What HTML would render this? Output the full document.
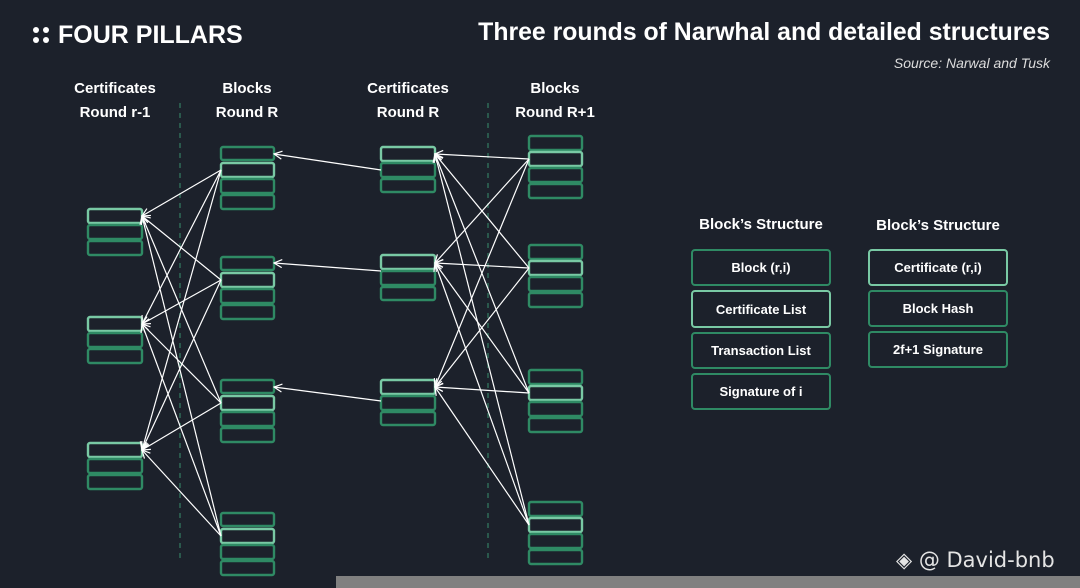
<!DOCTYPE html>
<html><head><meta charset="utf-8"><style>
body{margin:0;width:1080px;height:588px;background:#1c212b;overflow:hidden;position:relative;font-family:"Liberation Sans",sans-serif;color:#fff}
.t{position:absolute;font-weight:bold}
.box{position:absolute;border:2px solid #2f8a64;border-radius:4px;box-sizing:border-box;display:flex;align-items:center;justify-content:center;font-size:13px;font-weight:bold}
.hl{border-color:#79c9a4}
</style></head><body>
<div class="t" style="left:32px;top:21px;font-size:25px">
<span style="display:inline-block;width:18px;height:18px;position:relative;vertical-align:-1px;margin-right:8px">
<i style="position:absolute;left:1px;top:1px;width:6px;height:6px;border-radius:50%;background:#fff"></i>
<i style="position:absolute;left:11px;top:1px;width:6px;height:6px;border-radius:50%;background:#fff"></i>
<i style="position:absolute;left:1px;top:11px;width:6px;height:6px;border-radius:50%;background:#fff"></i>
<i style="position:absolute;left:11px;top:11px;width:6px;height:6px;border-radius:50%;background:#fff"></i></span>FOUR PILLARS</div>
<div class="t" style="right:30px;top:19px;font-size:24.8px">Three rounds of Narwhal and detailed structures</div>
<div style="position:absolute;right:30px;top:55px;font-size:14px;font-style:italic;color:#ddd">Source: Narwal and Tusk</div>
<div class="t" style="left:55px;width:120px;text-align:center;top:77px;font-size:15px;line-height:24px">Certificates<br>Round r-1</div>
<div class="t" style="left:187px;width:120px;text-align:center;top:77px;font-size:15px;line-height:24px">Blocks<br>Round R</div>
<div class="t" style="left:348px;width:120px;text-align:center;top:77px;font-size:15px;line-height:24px">Certificates<br>Round R</div>
<div class="t" style="left:495px;width:120px;text-align:center;top:77px;font-size:15px;line-height:24px">Blocks<br>Round R+1</div>

<svg width="1080" height="588" style="position:absolute;left:0;top:0">
<defs><marker id="a" markerWidth="10" markerHeight="10" refX="9" refY="5" orient="auto" markerUnits="userSpaceOnUse"><path d="M1,1 L9,5 L1,9" fill="none" stroke="#fff" stroke-width="1.2"/></marker></defs>
<g stroke="#2e6b58" stroke-width="1.5" stroke-dasharray="5,5"><line x1="180" y1="103" x2="180" y2="562"/><line x1="488" y1="103" x2="488" y2="562"/></g>
<g fill="none" stroke-width="2.4">
<g id="c3">
<rect x="88" y="209" width="54" height="14" rx="2" stroke="#79c9a4"/>
<rect x="88" y="225" width="54" height="14" rx="2" stroke="#2f8a64"/>
<rect x="88" y="241" width="54" height="14" rx="2" stroke="#2f8a64"/></g>
<use href="#c3" y="108"/><use href="#c3" y="234"/>
<g id="b4">
<rect x="221" y="147" width="53" height="13" rx="2" stroke="#2f8a64"/>
<rect x="221" y="163" width="53" height="14" rx="2" stroke="#79c9a4"/>
<rect x="221" y="179" width="53" height="14" rx="2" stroke="#2f8a64"/>
<rect x="221" y="195" width="53" height="14" rx="2" stroke="#2f8a64"/></g>
<use href="#b4" y="110"/><use href="#b4" y="233"/><use href="#b4" y="366"/>
<g id="c3b">
<rect x="381" y="147" width="54" height="14" rx="2" stroke="#79c9a4"/>
<rect x="381" y="163" width="54" height="14" rx="2" stroke="#2f8a64"/>
<rect x="381" y="179" width="54" height="13" rx="2" stroke="#2f8a64"/></g>
<use href="#c3b" y="108"/><use href="#c3b" y="233"/>
<g id="b4b">
<rect x="529" y="136" width="53" height="14" rx="2" stroke="#2f8a64"/>
<rect x="529" y="152" width="53" height="14" rx="2" stroke="#79c9a4"/>
<rect x="529" y="168" width="53" height="14" rx="2" stroke="#2f8a64"/>
<rect x="529" y="184" width="53" height="14" rx="2" stroke="#2f8a64"/></g>
<use href="#b4b" y="109"/><use href="#b4b" y="234"/><use href="#b4b" y="366"/>
</g>
<g stroke="#fff" stroke-width="1.2" marker-end="url(#a)">
<line x1="221" y1="170" x2="142" y2="216"/><line x1="221" y1="170" x2="142" y2="324"/><line x1="221" y1="170" x2="142" y2="450"/>
<line x1="221" y1="280" x2="142" y2="216"/><line x1="221" y1="280" x2="142" y2="324"/><line x1="221" y1="280" x2="142" y2="450"/>
<line x1="221" y1="403" x2="142" y2="216"/><line x1="221" y1="403" x2="142" y2="324"/><line x1="221" y1="403" x2="142" y2="450"/>
<line x1="221" y1="536" x2="142" y2="216"/><line x1="221" y1="536" x2="142" y2="324"/><line x1="221" y1="536" x2="142" y2="450"/>
<line x1="381" y1="170" x2="274" y2="154"/><line x1="381" y1="271" x2="274" y2="263"/><line x1="381" y1="401" x2="274" y2="387"/>
<line x1="529" y1="159" x2="435" y2="154"/><line x1="529" y1="159" x2="435" y2="263"/><line x1="529" y1="159" x2="435" y2="387"/>
<line x1="529" y1="268" x2="435" y2="154"/><line x1="529" y1="268" x2="435" y2="263"/><line x1="529" y1="268" x2="435" y2="387"/>
<line x1="529" y1="393" x2="435" y2="154"/><line x1="529" y1="393" x2="435" y2="263"/><line x1="529" y1="393" x2="435" y2="387"/>
<line x1="529" y1="525" x2="435" y2="154"/><line x1="529" y1="525" x2="435" y2="263"/><line x1="529" y1="525" x2="435" y2="387"/>
</g>
</svg>

<div class="t" style="left:680px;width:162px;text-align:center;top:216px;font-size:15px">Block’s Structure</div>
<div class="t" style="left:857px;width:162px;text-align:center;top:217px;font-size:15px">Block’s Structure</div>
<div class="box" style="left:691px;top:249px;width:140px;height:37px">Block (r,i)</div>
<div class="box hl" style="left:691px;top:290px;width:140px;height:38px">Certificate List</div>
<div class="box" style="left:691px;top:332px;width:140px;height:37px">Transaction List</div>
<div class="box" style="left:691px;top:373px;width:140px;height:37px">Signature of i</div>
<div class="box hl" style="left:868px;top:249px;width:140px;height:37px">Certificate (r,i)</div>
<div class="box" style="left:868px;top:290px;width:140px;height:37px">Block Hash</div>
<div class="box" style="left:868px;top:331px;width:140px;height:37px">2f+1 Signature</div>

<div style="position:absolute;left:896px;top:548px;font-size:21px;color:#e4e4e4;font-family:'DejaVu Sans',sans-serif">◈ @ David-bnb</div>
<div style="position:absolute;left:336px;top:576px;width:744px;height:12px;background:#808080"></div>
</body></html>
